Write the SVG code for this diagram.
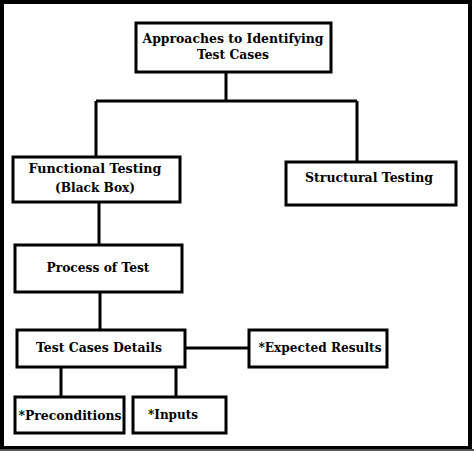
<svg xmlns="http://www.w3.org/2000/svg" width="474" height="451" viewBox="0 0 474 451">
<style>
.box{fill:#fff;stroke:#000;stroke-width:3}
.t{font-family:"DejaVu Serif","Liberation Serif",serif;font-weight:bold;font-size:12px;fill:#000;text-anchor:middle}
.c{stroke:#000;stroke-width:3;fill:none}
</style>
<rect x="0" y="0" width="474" height="451" fill="#fff"/>
<rect x="2" y="2" width="468" height="446" fill="none" stroke="#000" stroke-width="4"/>
<rect x="0" y="449" width="474" height="2" fill="#555"/>
<g id="connectors">
<path class="c" d="M226 72V101M96 101H357M96 101V157M357 101V162M99 202V245M100 292V330M185 348H249M61 367V397M176 367V397"/>
</g>
<g id="n-root"><rect class="box" x="136" y="23" width="195" height="49"/>
<text class="t" x="233" y="43" textLength="181" lengthAdjust="spacingAndGlyphs">Approaches to Identifying</text>
<text class="t" x="233" y="59" textLength="72" lengthAdjust="spacingAndGlyphs">Test Cases</text></g>
<g id="n-functional"><rect class="box" x="13" y="157" width="167" height="45"/>
<text class="t" x="95" y="173" textLength="133" lengthAdjust="spacingAndGlyphs">Functional Testing</text>
<text class="t" x="95" y="192" textLength="80" lengthAdjust="spacingAndGlyphs">(Black Box)</text></g>
<g id="n-structural"><rect class="box" x="286" y="162" width="170" height="43"/>
<text class="t" x="369" y="182" textLength="128" lengthAdjust="spacingAndGlyphs">Structural Testing</text></g>
<g id="n-process"><rect class="box" x="15" y="245" width="167" height="47"/>
<text class="t" x="98" y="272" textLength="103" lengthAdjust="spacingAndGlyphs">Process of Test</text></g>
<g id="n-details"><rect class="box" x="17" y="330" width="168" height="37"/>
<text class="t" x="99" y="352" textLength="126" lengthAdjust="spacingAndGlyphs">Test Cases Details</text></g>
<g id="n-expected"><rect class="box" x="249" y="330" width="138" height="37"/>
<text class="t" x="320" y="352" textLength="123" lengthAdjust="spacingAndGlyphs">*Expected Results</text></g>
<g id="n-pre"><rect class="box" x="15" y="397" width="109" height="36"/>
<text class="t" x="70" y="420" textLength="103" lengthAdjust="spacingAndGlyphs">*Preconditions</text></g>
<g id="n-inputs"><rect class="box" x="133" y="397" width="93" height="36"/>
<text class="t" x="173" y="419" textLength="50" lengthAdjust="spacingAndGlyphs">*Inputs</text></g>
</svg>
